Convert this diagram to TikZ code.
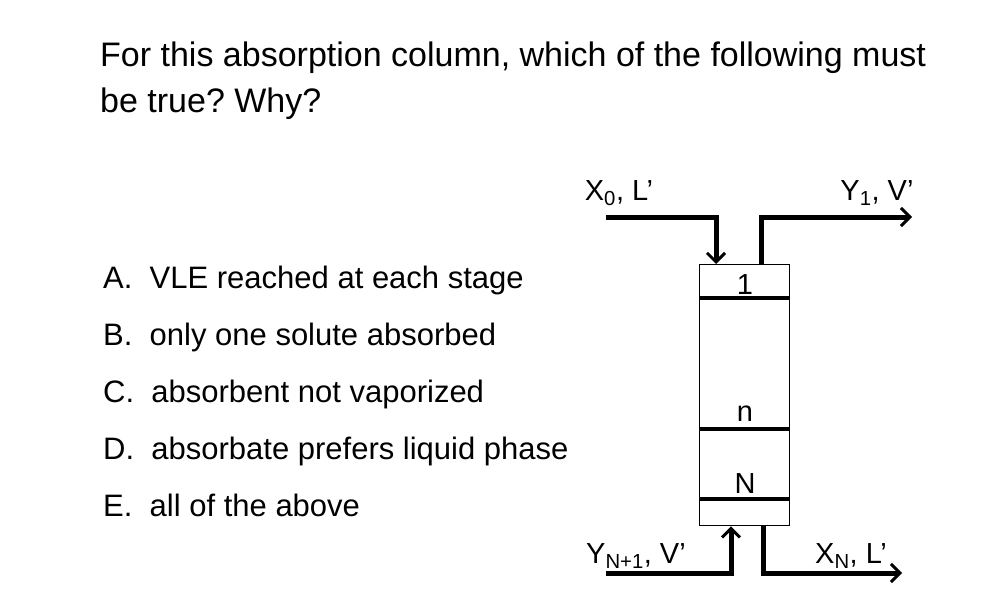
\documentclass[tikz,border=0pt]{standalone}
\usepackage{fontspec}
\setmainfont{Liberation Sans}
\usetikzlibrary{arrows.meta}
\frenchspacing
\begin{document}
\begin{tikzpicture}[x=1pt,y=-1pt,
  flow/.style={line width=5pt,-{Straight Barb[length=9pt,width=18pt,line width=3pt]}},
  plate/.style={line width=4pt},
  lbl/.style={font=\fontsize{29}{34}\selectfont,inner sep=0pt,anchor=base},
  opt/.style={font=\fontsize{31}{36}\selectfont,anchor=base west,inner sep=0pt}]
\useasboundingbox (0,0) rectangle (990,600);
\node[anchor=base west,align=left,inner sep=0pt,font=\fontsize{34}{46}\selectfont] (title) at (100,112)
 {For this absorption column, which of the following must\\be true? Why?};
\node[opt] (a) at (103,288) {A.\ \ VLE reached at each stage};
\node[opt] (b) at (103,345) {B.\ \ only one solute absorbed};
\node[opt] (c) at (103,402) {C.\ \ absorbent not vaporized};
\node[opt] (d) at (103,459) {D.\ \ absorbate prefers liquid phase};
\node[opt] (e) at (103,516) {E.\ \ all of the above};
\node[draw,line width=1.3pt,minimum width=90pt,minimum height=261pt,inner sep=0pt,anchor=north west] (col) at (699,264) {};
\draw[plate] (699,298) -- (789,298);
\draw[plate] (699,429) -- (789,429);
\draw[plate] (699,499) -- (789,499);
\node[lbl] (s1) at (745,294) {1};
\node[lbl] (sn) at (745,421) {n};
\node[lbl] (sN) at (745,493) {N};
\coordinate (inT) at (606,217);
\coordinate (outT) at (912,217);
\coordinate (inB) at (606,573);
\coordinate (outB) at (902,573);
\draw[flow] (inT) -| (col.north -| 716,0);
\draw[flow] (col.north -| 761,0) |- (outT);
\draw[flow] (inB) -| (col.south -| 731,0);
\draw[flow] (col.south -| 763,0) |- (outB);
\node[lbl] (x0) at (619,200) {X\textsubscript{0}, L’};
\node[lbl] (y1) at (877,200) {Y\textsubscript{1}, V’};
\node[lbl] (yn) at (636,563) {Y\textsubscript{N+1}, V’};
\node[lbl] (xn) at (851,563) {X\textsubscript{N}, L’};
\end{tikzpicture}
\end{document}
